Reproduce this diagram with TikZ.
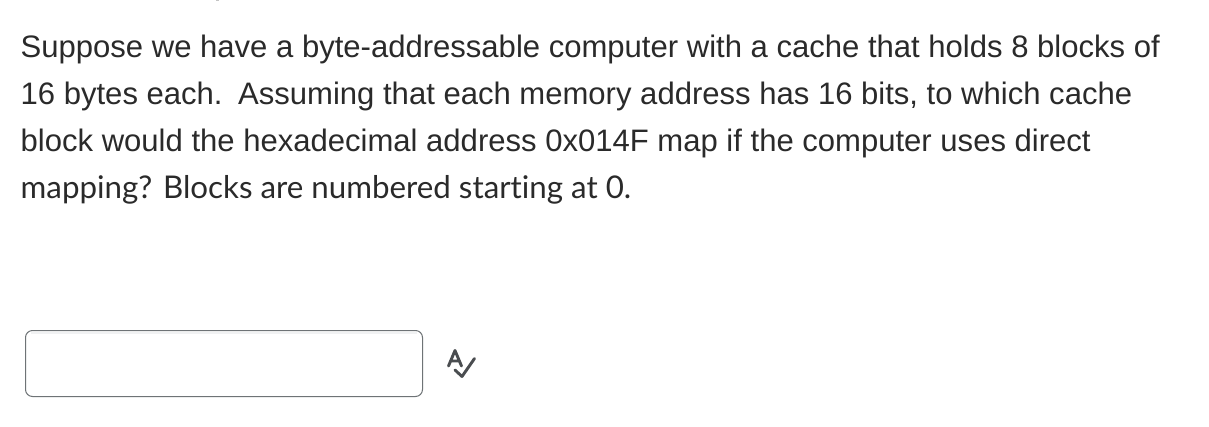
\documentclass[tikz,border=0pt]{standalone}
\usepackage{fontspec}
\setmainfont{Liberation Sans}
\newfontfamily\latofont[Ligatures=NoCommon]{Lato}
\definecolor{txt}{HTML}{2A2A2A}
\definecolor{boxline}{HTML}{6E7376}
\definecolor{boxshade}{HTML}{F1F2F3}
\definecolor{icon}{HTML}{4A4D50}
\definecolor{speck}{HTML}{C4C4C4}
\tikzset{
  x=1pt,y=-1pt,
  helv/.style={anchor=base west,inner sep=0pt,text=txt,font=\fontsize{31.05}{31.05}\selectfont},
  lato/.style={anchor=base west,inner sep=0pt,text=txt,font=\latofont\fontsize{31.3}{31.3}\selectfont},
  answerbox/.style={draw=boxline,line width=1pt,rounded corners=7pt,fill=white},
  iconline/.style={draw=icon,line width=2.9pt,line cap=round,line join=round}
}
\begin{document}
\begin{tikzpicture}
\useasboundingbox (0,0) rectangle (1209,426);
\fill[white] (0,0) rectangle (1209,426);
\fill[speck] (216,0) rectangle (219,1.2);
\node[helv] (l1) at (20.5,57) {Suppose we have a byte-addressable computer with a cache that holds 8 blocks of};
\node[helv] (l2) at (20.5,104) {16 bytes each.};
\node[helv] (l2b) at (238,104) {Assuming that each memory address has 16 bits, to which cache};
\node[helv] (l3) at (20.5,151) {block would the hexadecimal address 0x014F map if the computer uses direct};
\node[lato] (l4) at (20.5,198) {mapping? Blocks are numbered starting at 0.};
\draw[answerbox] (25.5,330.5) rectangle (422.5,396.5);
\draw[boxshade,line width=2pt] (31,332.5) -- (417,332.5);
\draw[iconline] (448.5,366) -- (455,350.5) -- (461.5,366) (451,361) -- (459,361);
\draw[iconline] (455,370) -- (462,376.5) -- (474.5,358.5);
\end{tikzpicture}
\end{document}
